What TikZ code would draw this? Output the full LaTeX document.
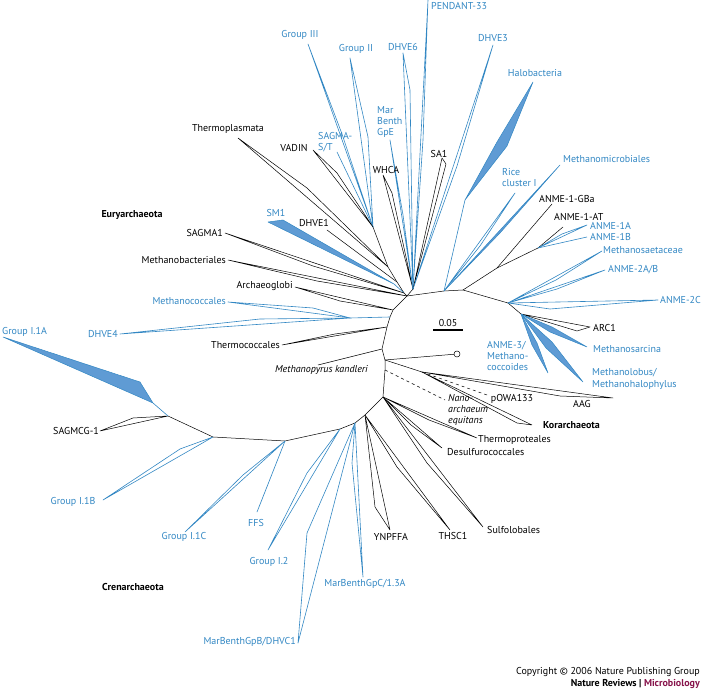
\documentclass[tikz,border=0pt]{standalone}
\usepackage{fontspec}
\setmainfont{PT Sans}
\usepackage{tikz}
\definecolor{clblue}{RGB}{50,135,195}
\definecolor{clfill}{RGB}{95,155,212}
\definecolor{npgpurple}{RGB}{135,20,75}

\begin{document}
\begin{tikzpicture}[x=1pt,y=-1pt]
\tikzstyle{blk}=[black,line width=0.5pt,line join=round]
\tikzstyle{blu}=[clblue,line width=0.6pt,line join=round]
\tikzstyle{wedge}=[clblue,fill=clfill,line width=0.5pt,line join=round]
\tikzstyle{txt}=[font=\fontsize{10}{11.2}\selectfont,inner sep=0pt,align=left]
\tikzstyle{btxt}=[txt,text=clblue]
\tikzstyle{itxt}=[txt,font=\fontsize{10}{11.2}\selectfont\itshape]
\tikzstyle{phylum}=[txt,font=\fontsize{10}{11.2}\selectfont\bfseries]
\useasboundingbox (0,0) rectangle (705,692);
\foreach \name/\point in {
	rA/{521,314}, rB/{508,303}, rC/{463,290}, rD/{444,291},
	rE/{407,296}, rF/{393,310}, rF2/{390,317}, rG/{387,327},
	rH/{382,349}, rI/{385,360}, rI2/{385,370}, rJ/{383,397},
	rK/{365,415}, rL/{355,423},
	c1/{340,429}, c2/{285,441}, c3/{213,437}, c4/{168,416},
	eU/{413,289}, eL/{404,293}, g3/{373,227}, nT/{388,267},
	nD1/{397,282}, mcn/{350,318}, a1/{497,268}, a2/{538,248},
	nK/{422,372}, hb/{465,200}, ia/{153,403}, sm1b/{394,284}}
	\coordinate (\name) at (\point);
\foreach \name/\point in {
	g3t/{308,44}, g3m/{342,134}, g2t/{350,58}, g2m/{368,137},
	sstt/{337,152}, vdt/{313,150}, vdm/{337,173},
	tpt/{238,138}, tpm/{307,188}, dv1t/{327,230},
	sm1a/{268,222}, sm1c/{283,220},
	sg1t/{225,233}, sg1m/{313,266}, mbt/{228,260}, mbm/{317,281},
	agt/{295,287}, agm/{340,301}, mct/{228,302}, mcm/{313,308},
	dv4t/{120,334}, dv4m/{260,319}, tct/{282,345}, tcm/{335,334},
	mpt/{318,365},
	whct/{383,175}, whcm/{392,193}, mbet/{390,140}, mbem/{403,215},
	dv6t/{403,53}, dv6m/{410,90}, pdt/{428,0}, pdm/{423,140},
	sa1t/{442,158}, sa1m/{446,164}, dv3t/{493,45}, dv3m/{457,166},
	hbt/{533,82}, hbl/{497,142}, hbr/{507,146},
	rct/{515,193}, rcm/{480,246}, mmt/{560,165}, mmm/{500,233},
	gbat/{552,204}, att/{563,227},
	a1at/{587,225}, a1am/{562,234}, a1bt/{587,237},
	mst/{602,251}, msm/{556,280}, a2bt/{605,270}, a2bm/{557,289},
	a2ct/{658,300}, a2cm/{550,309}, arct/{590,327}, arcm/{577,331},
	msct/{587,347}, mscl/{552,327}, mscr/{550,332},
	mlt/{583,382}, mll/{552,342}, mlr/{546,348},
	a3t/{548,373}, a3l/{537,343}, a3r/{532,345},
	kot/{532,425}, kom/{517,423}, aagt/{613,398}, aagm/{560,396},
	powt/{487,395}, nant/{445,400},
	thpt/{477,438}, thpm/{429,420}, dsct/{442,448}, dscm/{411,425},
	sult/{483,527}, sulm/{427,463}, ynt/{390,530}, ynm/{375,507},
	tht/{450,530}, thm/{397,467},
	mbct/{363,577}, mbcm/{352,463}, mbbt/{298,643}, mbbm/{307,533},
	g12t/{268,550}, g12m/{307,473}, ffst/{257,512}, ffsm/{261,502},
	g1ct/{185,532}, g1cm/{243,475}, g1bt/{103,500}, g1bm/{180,449},
	sgct/{100,431}, sgcm/{133,418}, iat/{3,337}, iam/{140,382},
	sb1/{433,330}, sb2/{463,330}}
	\coordinate (\name) at (\point);
\node[circle,draw,line width=0.5pt,inner sep=0pt,minimum size=6pt] (ocirc) at (457,354) {};
\draw[blk] (rA) -- (rB) -- (rC) -- (rD) -- (rE) -- (rF) -- (rF2) -- (rG) -- (rH) -- (rI) -- (rI2) -- (rJ) -- (rK) -- (rL) -- (c1) -- (c2) -- (c3) -- (c4);
\draw[blk] (eL) -- (rE);
\draw[blk] (eU) -- (rE);
\draw[blk] (g3) -- (nT) -- (nD1) -- (eL);
\draw[blu] (g3) -- (g3m) -- (g3t) -- cycle;
\draw[blu] (g3) -- (g2m) -- (g2t) -- cycle;
\draw[blu] (g3) -- (sstt);
\draw[blk] (g3) -- (vdm) -- (vdt) -- cycle;
\draw[blk] (nT) -- (tpm) -- (tpt) -- cycle;
\draw[blk] (nD1) -- (dv1t);
\draw[blu] (sm1b) -- (eL);
\draw[wedge] (sm1b) -- (sm1a) -- (sm1c) -- cycle;
\draw[blk] (eL) -- (sg1m) -- (sg1t) -- cycle;
\draw[blk] (rE) -- (mbm) -- (mbt) -- cycle;
\draw[blk] (rF) -- (agm) -- (agt) -- cycle;
\draw[blu] (rF2) -- (mcn);
\draw[blu] (mcn) -- (mcm) -- (mct) -- cycle;
\draw[blu] (mcn) -- (dv4m) -- (dv4t) -- cycle;
\draw[blk] (rG) -- (tcm) -- (tct) -- cycle;
\draw[blk] (rH) -- (mpt);
\draw[blk] (eU) -- (whcm) -- (whct) -- cycle;
\draw[blu] (eU) -- (mbem) -- (mbet) -- cycle;
\draw[blu] (eU) -- (dv6m) -- (dv6t) -- cycle;
\draw[blu] (eU) -- (pdm) -- (pdt) -- cycle;
\draw[blk] (eU) -- (sa1m) -- (sa1t) -- cycle;
\draw[blu] (eU) -- (dv3m) -- (dv3t) -- cycle;
\draw[blu] (rD) -- (hb);
\draw[wedge] (hb) -- (hbl) -- (hbt) -- (hbr) -- cycle;
\draw[blu] (rD) -- (rcm) -- (rct) -- cycle;
\draw[wedge] (rD) -- (mmm) -- (mmt) -- cycle;
\draw[blk] (rC) -- (a1) -- (a2);
\draw[blk] (a1) -- (gbat);
\draw[blk] (a2) -- (att);
\draw[blu] (a2) -- (a1am) -- (a1at) -- cycle;
\draw[blu] (a2) -- (a1bt);
\draw[blu] (rB) -- (msm) -- (mst) -- cycle;
\draw[blu] (rB) -- (a2bm) -- (a2bt) -- cycle;
\draw[blu] (rB) -- (a2cm) -- (a2ct) -- cycle;
\draw[blk] (rA) -- (arcm) -- (arct) -- cycle;
\draw[wedge] (rA) -- (mscl) -- (msct) -- (mscr) -- cycle;
\draw[wedge] (rA) -- (mll) -- (mlt) -- (mlr) -- cycle;
\draw[wedge] (rA) -- (a3l) -- (a3t) -- (a3r) -- cycle;
\draw[blk] (rI) -- (ocirc);
\draw[blk] (rI) -- (nK);
\draw[blk] (nK) -- (kom) -- (kot) -- cycle;
\draw[blk] (nK) -- (aagm) -- (aagt) -- cycle;
\draw[blk,dashed] (nK) -- (powt);
\draw[blk,dashed] (rI2) -- (nant);
\draw[blk] (rJ) -- (thpm) -- (thpt) -- cycle;
\draw[blk] (rJ) -- (dscm) -- (dsct) -- cycle;
\draw[blk] (rJ) -- (sulm) -- (sult) -- cycle;
\draw[blk] (rK) -- (ynm) -- (ynt) -- cycle;
\draw[blk] (rK) -- (thm) -- (tht) -- cycle;
\draw[blu] (rL) -- (mbcm) -- (mbct) -- cycle;
\draw[blu] (rL) -- (mbbm) -- (mbbt) -- cycle;
\draw[blu] (c1) -- (g12m) -- (g12t) -- cycle;
\draw[blu] (c2) -- (ffsm) -- (ffst) -- cycle;
\draw[blu] (c2) -- (g1cm) -- (g1ct) -- cycle;
\draw[blu] (c3) -- (g1bm) -- (g1bt) -- cycle;
\draw[blk] (c4) -- (sgcm) -- (sgct) -- cycle;
\draw[blu] (c4) -- (ia);
\draw[wedge] (ia) -- (iam) -- (iat) -- cycle;
\draw[black,line width=1.2pt] (sb1) -- (sb2);
\node[btxt] (lgIII) at (300,35) {Group III};
\node[btxt] (lgII) at (356,49) {Group II};
\node[btxt] (ldv6) at (403,47) {DHVE6};
\node[btxt,anchor=west] (lpd) at (431,6) {PENDANT-33};
\node[btxt] (ldv3) at (493,38) {DHVE3};
\node[btxt] (lhb) at (535,73) {Halobacteria};
\node[btxt,anchor=west] (lmbe) at (377,122) {Mar\\Benth\\GpE};
\node[btxt,anchor=west] (lsst) at (318,142) {SAGMA-\\S/T};
\node[txt] (ltp) at (228,129) {Thermoplasmata};
\node[txt] (lvd) at (294,148) {VADIN};
\node[txt] (lwh) at (386,170) {WHCA};
\node[txt] (lsa) at (439,154) {SA1};
\node[btxt,anchor=west] (lrc) at (502,177.5) {Rice\\cluster I};
\node[btxt,anchor=west] (lmm) at (563,159) {Methanomicrobiales};
\node[txt,anchor=west] (lgba) at (539,199) {ANME-1-GBa};
\node[txt,anchor=west] (lat) at (554,217) {ANME-1-AT};
\node[btxt,anchor=west] (la1a) at (590,226) {ANME-1A};
\node[btxt,anchor=west] (la1b) at (590,237) {ANME-1B};
\node[btxt,anchor=west] (lms) at (603,250) {Methanosaetaceae};
\node[btxt,anchor=west] (la2ab) at (608,270) {ANME-2A/B};
\node[btxt,anchor=west] (la2c) at (660,300) {ANME-2C};
\node[txt,anchor=west] (larc) at (593,328) {ARC1};
\node[btxt,anchor=west] (lmsc) at (593,349) {Methanosarcina};
\node[btxt,anchor=west] (lml) at (592,379) {Methanolobus/\\Methanohalophylus};
\node[btxt,anchor=west] (la3) at (487,356) {ANME-3/\\Methano-\\coccoides};
\node[txt] (lsb) at (448,323) {0.05};
\node[phylum] (leury) at (132,215) {Euryarchaeota};
\node[btxt] (lsm1) at (276,213) {SM1};
\node[txt] (ldv1) at (314,223) {DHVE1};
\node[txt,anchor=east] (lsg1) at (223,233) {SAGMA1};
\node[txt,anchor=east] (lmb) at (226,260) {Methanobacteriales};
\node[txt,anchor=east] (lag) at (293,286) {Archaeoglobi};
\node[btxt,anchor=east] (lmc) at (226,301) {Methanococcales};
\node[btxt,anchor=east] (ldv4) at (118,334) {DHVE4};
\node[btxt,anchor=west] (lia) at (2,332) {Group I.1A};
\node[txt,anchor=east] (ltc) at (280,345) {Thermococcales};
\node[itxt,anchor=east] (lmp) at (368,370) {Methanopyrus kandleri};
\node[txt,anchor=east] (lsgc) at (99,431) {SAGMCG-1};
\node[btxt] (lg1b) at (73,502) {Group I.1B};
\node[btxt] (lg1c) at (184,537) {Group I.1C};
\node[btxt] (lffs) at (256,523) {FFS};
\node[btxt] (lg12) at (269,562) {Group I.2};
\node[phylum] (lcren) at (133,587) {Crenarchaeota};
\node[btxt,anchor=east] (lmbb) at (296,642) {MarBenthGpB/DHVC1};
\node[btxt] (lmbc) at (365,584) {MarBenthGpC/1.3A};
\node[txt] (lyn) at (391,537) {YNPFFA};
\node[txt] (lth) at (453,536) {THSC1};
\node[txt,anchor=west] (lsul) at (487,530) {Sulfolobales};
\node[txt,anchor=west] (ldsc) at (447,452) {Desulfurococcales};
\node[txt,anchor=west] (lthp) at (478,440) {Thermoproteales};
\node[phylum,anchor=west] (lkor) at (543,425) {Korarchaeota};
\node[txt] (laag) at (582,404) {AAG};
\node[txt] (lpow) at (512,399) {pOWA133};
\node[itxt,anchor=west] (lnan) at (448,410) {Nano-\\archaeum\\equitans};
\node[txt,anchor=east] (lcopy) at (700,672) {Copyright \textcopyright{} 2006 Nature Publishing Group};
\node[txt,anchor=east] (lnrm) at (700,684) {\bfseries Nature Reviews | \textcolor{npgpurple}{Microbiology}};
\end{tikzpicture}
\end{document}
